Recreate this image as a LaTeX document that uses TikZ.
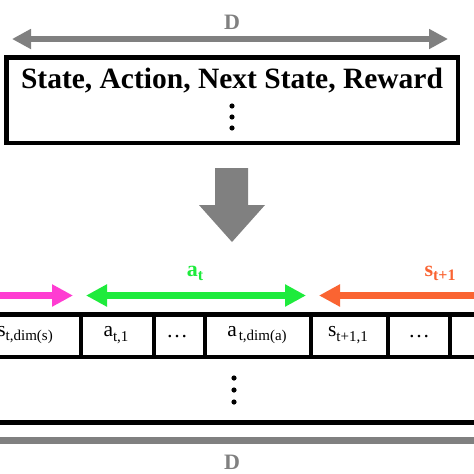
\documentclass[tikz,border=0pt]{standalone}
\usepackage{fontspec}
\setmainfont{Liberation Serif}
\usetikzlibrary{arrows.meta}
\definecolor{dgray}{RGB}{128,128,128}
\definecolor{mag}{RGB}{255,60,210}
\definecolor{grn}{RGB}{30,235,60}
\definecolor{orng}{RGB}{250,100,50}
\newcommand\sbs[1]{\raisebox{-4.5pt}{\fontsize{15}{15}\selectfont #1}}
\newcommand\bsbs[1]{\raisebox{-4pt}{\fontsize{16}{16}\selectfont #1}}
\begin{document}
\begin{tikzpicture}[x=1pt,y=-1pt,
  frame/.style={draw=black, line width=4.5pt},
  cellsep/.style={draw=black, line width=4pt},
  grayarr/.style={draw=dgray, line width=5.5pt, {Triangle[length=19pt,width=19pt]}-{Triangle[length=19pt,width=19pt]}},
  colarr/.style={line width=7.5pt},
  tipboth/.style={{Triangle[length=21pt,width=21pt]}-{Triangle[length=21pt,width=21pt]}},
  tipend/.style={-{Triangle[length=21pt,width=21pt]}},
  dlabel/.style={text=dgray, font=\bfseries\fontsize{22}{24}\selectfont, inner sep=0pt},
  celltext/.style={font=\fontsize{21.5}{24}\selectfont, inner sep=0pt},
  dotc/.style={fill=black}
]
\useasboundingbox (0,0) rectangle (474,474);
\clip (0,0) rectangle (474,474);
\fill[white] (0,0) rectangle (474,474);

% top D arrow
\node[dlabel] (Dtop) at (232,22) {D};
\coordinate (tl) at (12,39);
\coordinate (tr) at (448,39);
\draw[grayarr] (tl) -- (tr);

% top box
\draw[frame] (6.5,57.5) rectangle (458,143);
\node[inner sep=0pt, font=\bfseries\fontsize{29.5}{32}\selectfont] (title) at (232,81) {State, Action, Next State, Reward};
\fill[dotc] (232,106) circle (2.6);
\fill[dotc] (232,117) circle (2.6);
\fill[dotc] (232,128) circle (2.6);

% down arrow
\fill[dgray] (215,168) -- (248,168) -- (248,205) -- (265,205) -- (232,242) -- (199,205) -- (215,205) -- cycle;

% coloured arrows
\coordinate (m0) at (-20,295.5);
\coordinate (m1) at (73,295.5);
\draw[colarr, mag, tipend] (m0) -- (m1);
\coordinate (g0) at (86,295.5);
\coordinate (g1) at (306,295.5);
\draw[colarr, grn, tipboth] (g0) -- (g1);
\coordinate (o0) at (500,295.5);
\coordinate (o1) at (319,295.5);
\draw[colarr, orng, tipend] (o0) -- (o1);
\node[inner sep=0pt, text=grn, font=\bfseries\fontsize{22}{24}\selectfont] (at) at (195,273) {a\bsbs{t}};
\node[inner sep=0pt, text=orng, font=\bfseries\fontsize{22}{24}\selectfont] (st1) at (440,273) {s\bsbs{t+1}};

% cells
\draw[frame] (-30,314.5) rectangle (504,422.5);
\draw[cellsep] (-30,357) -- (504,357);
\foreach \xx in {81,153.5,205,310.5,388,450} {
  \draw[cellsep] (\xx,314.5) -- (\xx,357);
}
\node[celltext, anchor=east] (c0) at (53,335) {s\sbs{t,dim(s)}};
\node[celltext] (c1) at (116,335) {a\sbs{t,1}};
\node[celltext] (c2) at (177,337) {\dots};
\node[celltext] (c3) at (257,335) {a\hspace{2pt}\sbs{t,dim(a)}};
\node[celltext] (c4) at (348,335) {s\sbs{t+1,1}};
\node[celltext] (c5) at (419,337) {\dots};
\fill[dotc] (234,378) circle (2.6);
\fill[dotc] (234,390) circle (2.6);
\fill[dotc] (234,402) circle (2.6);

% bottom D line
\coordinate (bl) at (-20,440.5);
\coordinate (br) at (494,440.5);
\draw[dgray, line width=7pt] (bl) -- (br);
\node[dlabel] (Dbot) at (232,462) {D};
\end{tikzpicture}
\end{document}
